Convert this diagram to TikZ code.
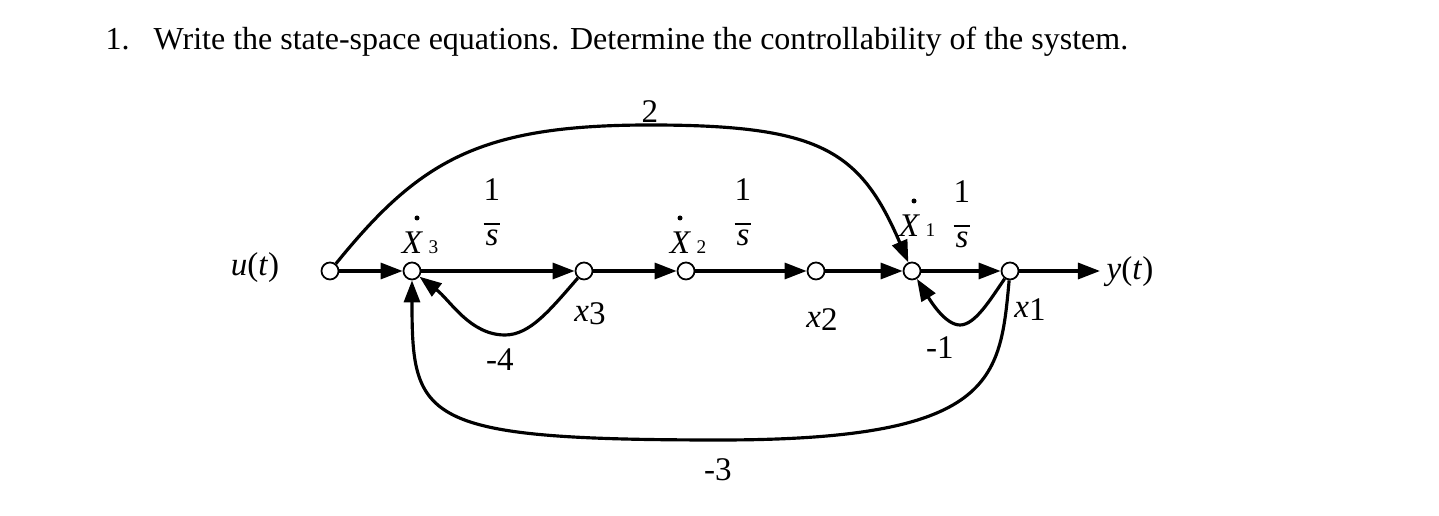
\documentclass[tikz,border=0pt]{standalone}
\usepackage{fontspec}
\setmainfont{Liberation Serif}
\usetikzlibrary{arrows.meta}
\newcommand{\frs}{\begin{tabular}{@{}c@{}}1\\[-3pt]\rule{0.5em}{0.5pt}\\[-4pt]\textit{s}\end{tabular}}
\begin{document}
\begin{tikzpicture}[x=0.01cm,y=-0.01cm,
  nd/.style={circle,draw,line width=0.5pt,minimum size=0.17cm,inner sep=0pt,fill=white},
  br/.style={line width=0.9pt,-{Triangle[length=0.22cm,width=0.16cm]}},
  lb/.style={inner sep=0pt,font=\fontsize{9.4pt}{10pt}\selectfont},
  sm/.style={inner sep=0pt,font=\fontsize{7pt}{8pt}\selectfont}]
\useasboundingbox (0,0) rectangle (1439,516);
\node[lb,anchor=west,font=\fontsize{9.1pt}{10pt}\selectfont] (title) at (105,42) {1.\hspace{0.75em}Write the state-space equations. Determine the controllability of the system.};
\node[nd] (u) at (330,271) {};
\node[nd] (a) at (412,271) {};
\node[nd] (b) at (584,271) {};
\node[nd] (c) at (686,271) {};
\node[nd] (d) at (816,271) {};
\node[nd] (e) at (912,271) {};
\node[nd] (f) at (1010,271) {};
\coordinate (yend) at (1100,271);
\draw[br] (u) -- (a);
\draw[br] (a) -- (b);
\draw[br] (b) -- (c);
\draw[br] (c) -- (d);
\draw[br] (d) -- (e);
\draw[br] (e) -- (f);
\draw[br] (f) -- (yend);
\draw[br] (u) .. controls (420,160) and (480,125) .. (650,125) .. controls (820,125) and (860,150) .. (e);
\draw[br] (b) .. controls (550,310) and (530,335) .. (505,335) .. controls (470,335) and (450,300) .. (a);
\draw[br] (f) .. controls (990,300) and (975,325) .. (960,325) .. controls (945,325) and (930,300) .. (e);
\draw[br] (f) .. controls (1000,380) and (995,440) .. (720,440) .. controls (420,440) and (412,420) .. (a);
\node[lb] (yl) at (1130,272) {\textit{y}(\textit{t})};
\node[lb] (ul) at (255,268) {\textit{u}(\textit{t})};
\node[lb] (g2) at (650,112) {2};
\node[lb] (g4) at (500,360) {-4};
\node[lb] (g1) at (940,348) {-1};
\node[lb] (g3) at (718,470) {-3};
\node[lb] (s1) at (492,216) {\frs};
\node[lb] (s2) at (743,216) {\frs};
\node[lb] (s3) at (962,218) {\frs};
\node[lb] (x3) at (590,314) {\textit{x}\raisebox{-1pt}{3}};
\node[lb] (x2) at (822,320) {\textit{x}\raisebox{-1pt}{2}};
\node[lb] (x1) at (1030,310) {\textit{x}\raisebox{-1pt}{1}};
\node[lb] (X3) at (420,243) {\textit{X}\,{\fontsize{5.5pt}{6pt}\selectfont 3}};
\node[lb] (X2) at (688,243) {\textit{X}\,{\fontsize{5.5pt}{6pt}\selectfont 2}};
\node[lb] (X1) at (917,226) {\textit{X}\,{\fontsize{5.5pt}{6pt}\selectfont 1}};
\fill (417,218) circle (2.5);
\fill (680,218) circle (2.5);
\fill (914,201) circle (2.5);
\end{tikzpicture}
\end{document}
